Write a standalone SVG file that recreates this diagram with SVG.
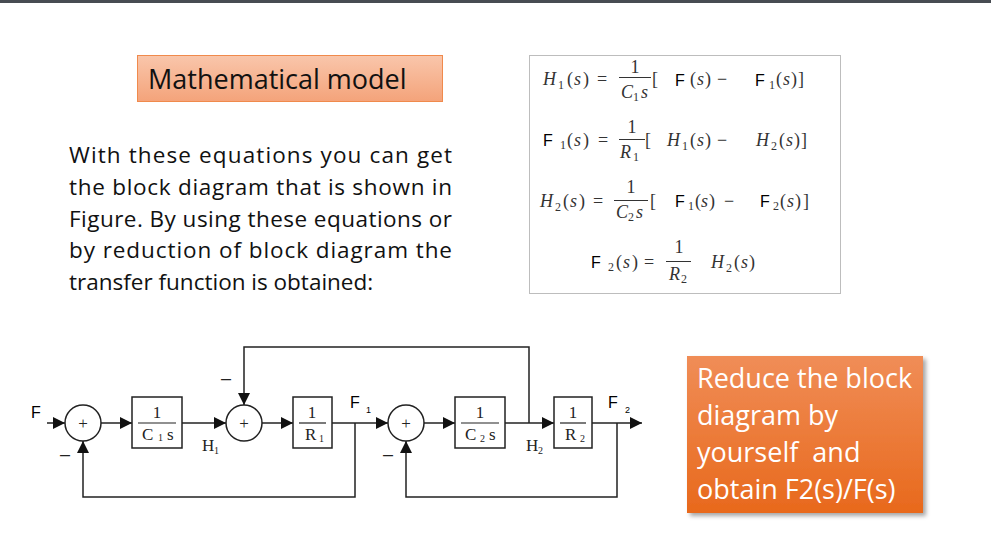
<svg xmlns="http://www.w3.org/2000/svg" width="991" height="551" viewBox="0 0 991 551">
<style>
.mi{font-family:"Liberation Serif","DejaVu Serif",serif;font-style:italic;font-size:18px;fill:#333}
.mr{font-family:"Liberation Serif","DejaVu Serif",serif;font-size:18px;fill:#333}
.ms{font-family:"Liberation Serif","DejaVu Serif",serif;font-size:12px;fill:#333}
.fs{font-family:"Liberation Sans",Arial,sans-serif;font-size:16px;fill:#000}
.fsub{font-family:"Liberation Sans",Arial,sans-serif;font-size:9px;fill:#000}
.frac{stroke:#333;stroke-width:1}
.para{font-family:"Open Sans","Liberation Sans",sans-serif;font-size:22.5px;fill:#111}
.blk{fill:#fff;stroke:#222;stroke-width:1.5}
.bl{stroke:#222;stroke-width:1.2}
.bt{font-family:"Liberation Serif","DejaVu Serif",serif;font-size:17px;fill:#222}
.bs{font-family:"Liberation Serif","DejaVu Serif",serif;font-size:10px;fill:#222}
.sum{fill:#fff;stroke:#222;stroke-width:1.5}
.plus{font-family:"Liberation Serif","DejaVu Serif",serif;font-size:17px;fill:#222;text-anchor:middle}
.minus{font-family:"Liberation Sans",Arial,sans-serif;font-size:18px;fill:#222;text-anchor:middle}
.wire{fill:none;stroke:#222;stroke-width:1.5}
.ot{font-family:"Open Sans","Liberation Sans",sans-serif;font-size:27px;fill:#fff}
</style>
<defs>
<marker id="ah" markerWidth="12" markerHeight="12" refX="12" refY="6" orient="auto" markerUnits="userSpaceOnUse"><path d="M0,0 L12,6 L0,12 z" fill="#111"/></marker>
<linearGradient id="g1" x1="0" y1="0" x2="0" y2="1"><stop offset="0" stop-color="#f9c6ab"/><stop offset="1" stop-color="#f4a37a"/></linearGradient>
<linearGradient id="g2" x1="0" y1="0" x2="0" y2="1"><stop offset="0" stop-color="#f08d57"/><stop offset="1" stop-color="#e8691c"/></linearGradient>
<filter id="sh" x="-10%" y="-10%" width="130%" height="130%"><feDropShadow dx="3" dy="3" stdDeviation="2" flood-color="#000" flood-opacity="0.35"/></filter>
</defs>
<rect x="0" y="0" width="991" height="551" fill="#fff"/>
<rect x="0" y="0" width="991" height="3" fill="#474c52"/>

<g id="title">
<rect x="137.5" y="55.5" width="305" height="46" fill="url(#g1)" stroke="#f08a4c" stroke-width="1"/>
<text x="148" y="89" font-family="Open Sans, Liberation Sans, sans-serif" font-size="27" fill="#111">Mathematical model</text>
</g>

<g id="paragraph" class="para">
<text x="69" y="163" textLength="383" lengthAdjust="spacing">With these equations you can get</text>
<text x="69" y="195" textLength="383" lengthAdjust="spacing">the block diagram that is shown in</text>
<text x="69" y="227" textLength="383" lengthAdjust="spacing">Figure. By using these equations or</text>
<text x="69" y="258" textLength="383" lengthAdjust="spacing">by reduction of block diagram the</text>
<text x="69" y="290">transfer function is obtained:</text>
</g>

<g id="equations">
<rect x="529.5" y="55.5" width="311" height="238" fill="#fff" stroke="#bdbdbd" stroke-width="1"/>
<!-- eq1 -->
<text class="mi" x="543" y="85">H</text><text class="ms" x="558" y="89">1</text>
<text class="mr" x="567" y="85">(</text><text class="mi" x="574" y="85">s</text><text class="mr" x="583" y="85">)</text>
<text class="mr" x="597" y="85">=</text>
<text class="mr" x="635" y="73" text-anchor="middle">1</text>
<line class="frac" x1="619" y1="77.5" x2="651" y2="77.5"/>
<text class="mi" x="621" y="98">C</text><text class="ms" x="633" y="101">1</text><text class="mi" x="641" y="98">s</text>
<text class="mr" x="652" y="85">[</text>
<text class="fs" x="675" y="86">F</text>
<text class="mr" x="690" y="85">(</text><text class="mi" x="697" y="85">s</text><text class="mr" x="705" y="85">)</text>
<text class="mr" x="717" y="85">−</text>
<text class="fs" x="755" y="86">F</text><text class="ms" x="769" y="89">1</text>
<text class="mr" x="776" y="85">(</text><text class="mi" x="783" y="85">s</text><text class="mr" x="791" y="85">)</text><text class="mr" x="798" y="85">]</text>
<!-- eq2 -->
<text class="fs" x="543" y="146">F</text><text class="ms" x="560" y="149">1</text>
<text class="mr" x="567" y="146">(</text><text class="mi" x="574" y="146">s</text><text class="mr" x="583" y="146">)</text>
<text class="mr" x="598" y="146">=</text>
<text class="mr" x="632" y="133" text-anchor="middle">1</text>
<line class="frac" x1="619" y1="139.5" x2="645" y2="139.5"/>
<text class="mi" x="620" y="158">R</text><text class="ms" x="633" y="161">1</text>
<text class="mr" x="645" y="146">[</text>
<text class="mi" x="667" y="146">H</text><text class="ms" x="682" y="150">1</text>
<text class="mr" x="690" y="146">(</text><text class="mi" x="697" y="146">s</text><text class="mr" x="705" y="146">)</text>
<text class="mr" x="717" y="146">−</text>
<text class="mi" x="756" y="146">H</text><text class="ms" x="771" y="150">2</text>
<text class="mr" x="779" y="146">(</text><text class="mi" x="786" y="146">s</text><text class="mr" x="794" y="146">)</text><text class="mr" x="801" y="146">]</text>
<!-- eq3 -->
<text class="mi" x="540" y="207">H</text><text class="ms" x="555" y="211">2</text>
<text class="mr" x="563" y="207">(</text><text class="mi" x="570" y="207">s</text><text class="mr" x="579" y="207">)</text>
<text class="mr" x="593" y="207">=</text>
<text class="mr" x="631" y="193" text-anchor="middle">1</text>
<line class="frac" x1="614" y1="200.5" x2="648" y2="200.5"/>
<text class="mi" x="616" y="218">C</text><text class="ms" x="628" y="221">2</text><text class="mi" x="636" y="218">s</text>
<text class="mr" x="650" y="207">[</text>
<text class="fs" x="675" y="207">F</text><text class="ms" x="688" y="210">1</text>
<text class="mr" x="695" y="207">(</text><text class="mi" x="701" y="207">s</text><text class="mr" x="709" y="207">)</text>
<text class="mr" x="724" y="207">−</text>
<text class="fs" x="760" y="207">F</text><text class="ms" x="773" y="210">2</text>
<text class="mr" x="780" y="207">(</text><text class="mi" x="787" y="207">s</text><text class="mr" x="795" y="207">)</text><text class="mr" x="803" y="207">]</text>
<!-- eq4 -->
<text class="fs" x="591" y="268">F</text><text class="ms" x="608" y="271">2</text>
<text class="mr" x="616" y="268">(</text><text class="mi" x="623" y="268">s</text><text class="mr" x="632" y="268">)</text>
<text class="mr" x="644" y="268">=</text>
<text class="mr" x="679" y="253" text-anchor="middle">1</text>
<line class="frac" x1="666" y1="261.5" x2="691" y2="261.5"/>
<text class="mi" x="669" y="280">R</text><text class="ms" x="681" y="283">2</text>
<text class="mi" x="711" y="268">H</text><text class="ms" x="726" y="272">2</text>
<text class="mr" x="734" y="268">(</text><text class="mi" x="741" y="268">s</text><text class="mr" x="749" y="268">)</text>
</g>

<g id="task">
<rect x="687" y="356" width="236" height="157" fill="url(#g2)" filter="url(#sh)"/>
<text class="ot" x="697" y="388">Reduce the block</text>
<text class="ot" x="697" y="425">diagram by</text>
<text class="ot" x="697" y="462" xml:space="preserve">yourself  and</text>
<text class="ot" x="697" y="499">obtain F2(s)/F(s)</text>
</g>

<g id="connectors">
<line class="wire" x1="47" y1="423" x2="65" y2="423" marker-end="url(#ah)"/>
<line class="wire" x1="101" y1="423" x2="132" y2="423" marker-end="url(#ah)"/>
<line class="wire" x1="182" y1="423" x2="226" y2="423" marker-end="url(#ah)"/>
<line class="wire" x1="262" y1="423" x2="293" y2="423" marker-end="url(#ah)"/>
<line class="wire" x1="332" y1="423" x2="388" y2="423" marker-end="url(#ah)"/>
<line class="wire" x1="424" y1="423" x2="455" y2="423" marker-end="url(#ah)"/>
<line class="wire" x1="505" y1="423" x2="554" y2="423" marker-end="url(#ah)"/>
<line class="wire" x1="592" y1="423" x2="642" y2="423" marker-end="url(#ah)"/>
<path class="wire" d="M355,423 V497 H83 V441" marker-end="url(#ah)"/>
<path class="wire" d="M529,423 V347 H244 V405" marker-end="url(#ah)"/>
<path class="wire" d="M617,423 V497 H406 V441" marker-end="url(#ah)"/>
</g>

<g id="sum1">
<circle class="sum" cx="83" cy="423" r="18"/>
<text class="plus" x="83" y="429">+</text>
<text class="minus" x="65" y="460">–</text>
</g>
<g id="block1">
<rect class="blk" x="132" y="397" width="50" height="51"/>
<text class="bt" x="157" y="418" text-anchor="middle">1</text>
<line class="bl" x1="138" y1="423" x2="176" y2="423"/>
<text class="bt" x="142" y="440">C</text><text class="bs" x="158" y="441">1</text><text class="bt" x="167" y="440">s</text>
</g>
<g id="h1label">
<text class="bt" x="202" y="451">H</text><text class="bs" x="214" y="454">1</text>
</g>
<g id="sum2">
<circle class="sum" cx="244" cy="423" r="18"/>
<text class="plus" x="244" y="429">+</text>
<text class="minus" x="226" y="384">–</text>
</g>
<g id="block2">
<rect class="blk" x="293" y="397" width="39" height="51"/>
<text class="bt" x="312" y="418" text-anchor="middle">1</text>
<line class="bl" x1="299" y1="423" x2="326" y2="423"/>
<text class="bt" x="305" y="440">R</text><text class="bs" x="319" y="442">1</text>
</g>
<g id="f1label">
<text class="fs" x="350" y="408">F</text><text class="fsub" x="366" y="413">1</text>
</g>
<g id="sum3">
<circle class="sum" cx="406" cy="423" r="18"/>
<text class="plus" x="406" y="429">+</text>
<text class="minus" x="388" y="460">–</text>
</g>
<g id="block3">
<rect class="blk" x="455" y="397" width="50" height="51"/>
<text class="bt" x="480" y="418" text-anchor="middle">1</text>
<line class="bl" x1="461" y1="423" x2="499" y2="423"/>
<text class="bt" x="465" y="440">C</text><text class="bs" x="480" y="442">2</text><text class="bt" x="489" y="440">s</text>
</g>
<g id="h2label">
<text class="bt" x="526" y="451">H</text><text class="bs" x="538" y="454">2</text>
</g>
<g id="block4">
<rect class="blk" x="554" y="397" width="38" height="51"/>
<text class="bt" x="573" y="418" text-anchor="middle">1</text>
<line class="bl" x1="560" y1="423" x2="586" y2="423"/>
<text class="bt" x="565" y="440">R</text><text class="bs" x="580" y="442">2</text>
</g>
<g id="flabels">
<text class="fs" x="31" y="418">F</text>
<text class="fs" x="608" y="408">F</text><text class="fsub" x="625" y="413">2</text>
</g>
</svg>
